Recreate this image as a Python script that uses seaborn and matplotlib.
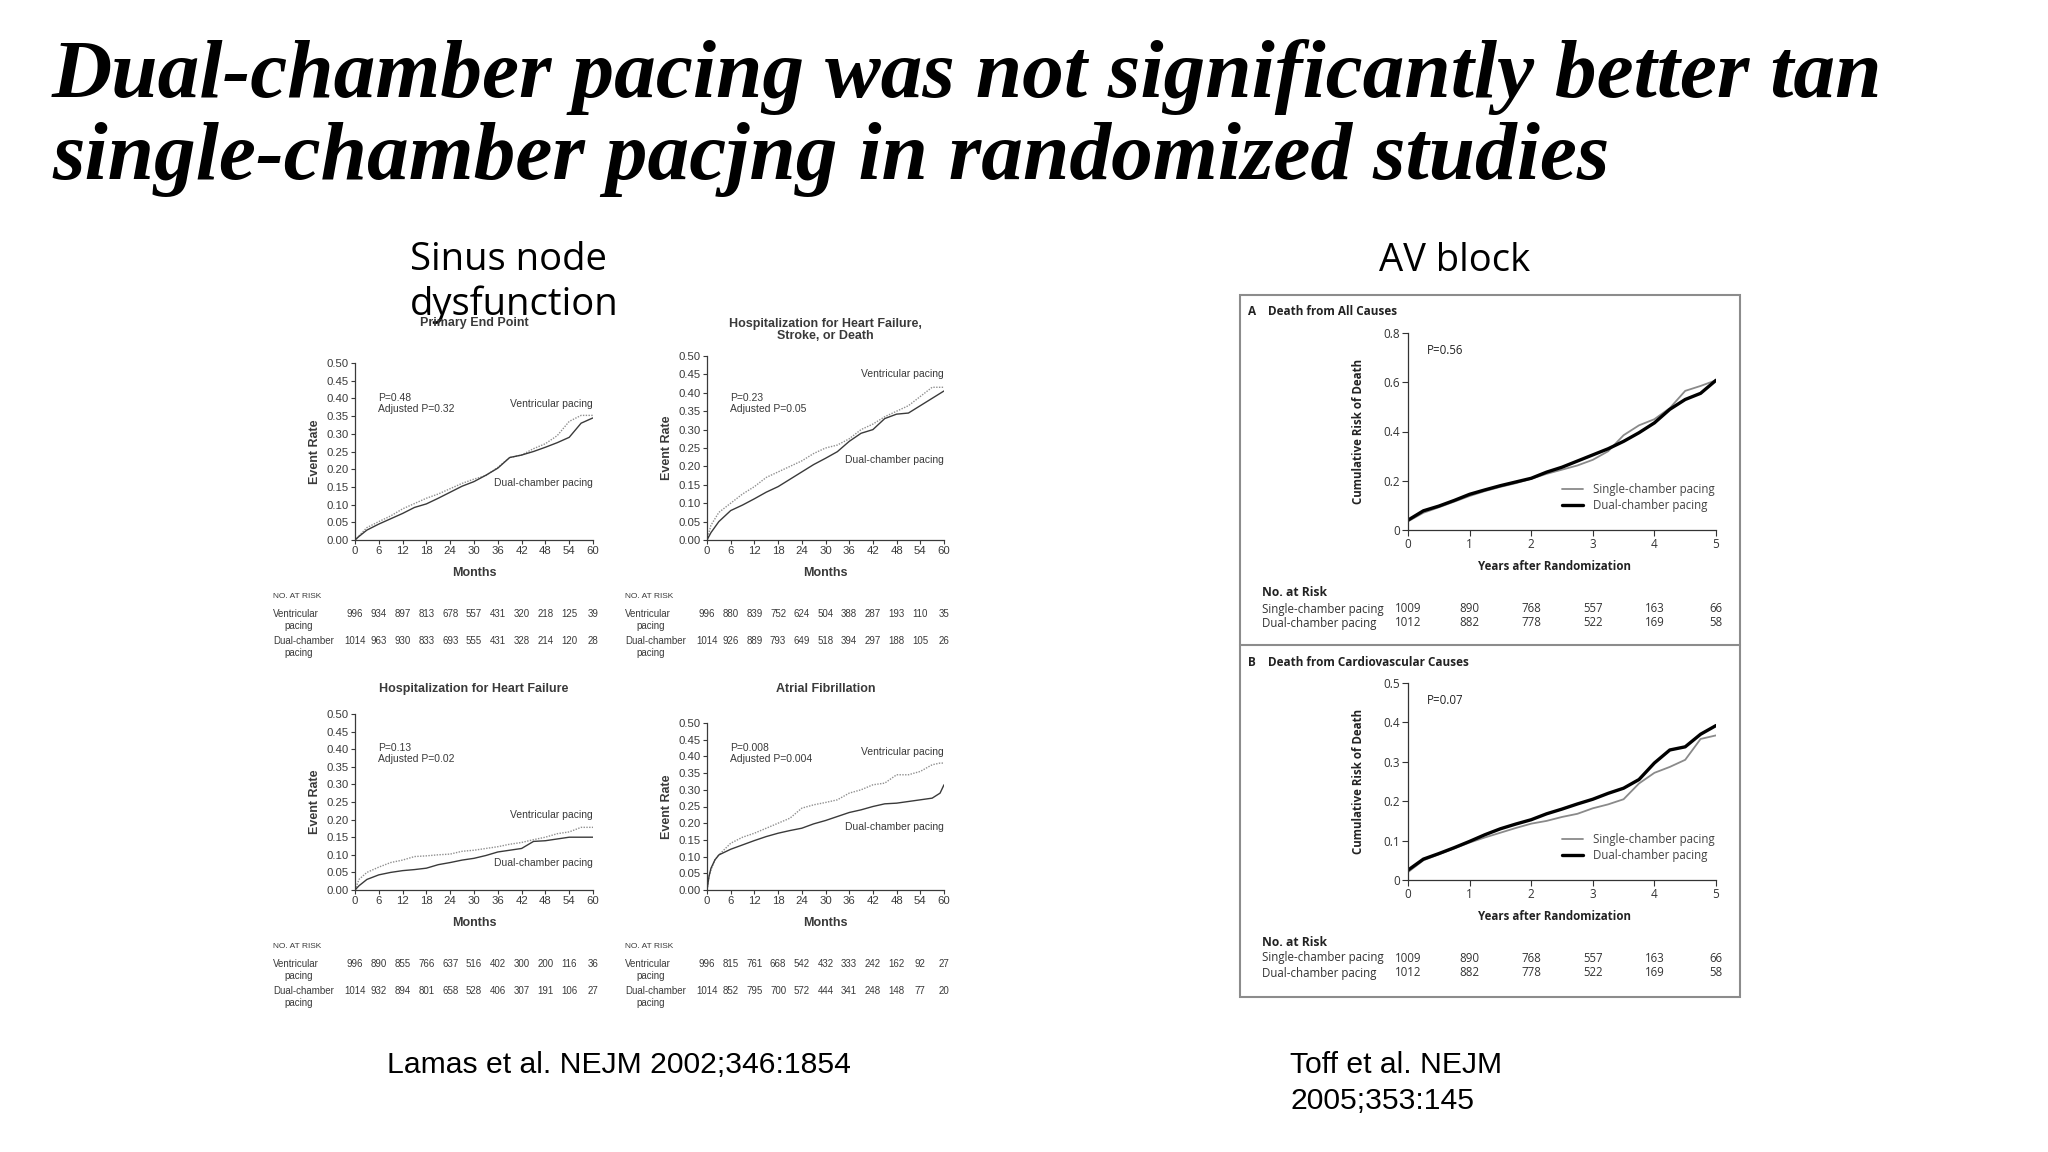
import matplotlib
matplotlib.use("Agg")
import matplotlib.pyplot as plt
import matplotlib.transforms as mtrans
from matplotlib.patches import Rectangle
from matplotlib.lines import Line2D
import seaborn as sns
import pandas as pd

# ---------------- DATA ----------------
# Lamas et al. (sinus node dysfunction) - event rates by month
months = [0, 1, 3, 6, 9, 12, 15, 18, 21, 24, 27, 30, 33, 36, 39, 42, 45, 48, 51, 54, 57, 60]

pep_vent = [0, 0.012, 0.035, 0.052, 0.068, 0.088, 0.103, 0.118, 0.130, 0.145, 0.160, 0.172,
            0.182, 0.205, 0.233, 0.240, 0.258, 0.272, 0.295, 0.335, 0.352, 0.352]
pep_dual = [0, 0.010, 0.028, 0.045, 0.060, 0.075, 0.092, 0.102, 0.118, 0.135, 0.152, 0.165,
            0.183, 0.203, 0.233, 0.240, 0.250, 0.262, 0.275, 0.290, 0.330, 0.345]

hfs_vent = [0, 0.040, 0.075, 0.100, 0.125, 0.145, 0.170, 0.185, 0.200, 0.215, 0.235, 0.250,
            0.258, 0.275, 0.300, 0.315, 0.335, 0.350, 0.365, 0.390, 0.415, 0.415]
hfs_dual = [0, 0.020, 0.050, 0.080, 0.095, 0.112, 0.130, 0.145, 0.165, 0.185, 0.205, 0.222,
            0.240, 0.268, 0.290, 0.300, 0.330, 0.342, 0.345, 0.365, 0.385, 0.405]

hf_vent = [0, 0.030, 0.050, 0.065, 0.078, 0.085, 0.095, 0.097, 0.100, 0.102, 0.110, 0.113,
           0.118, 0.123, 0.130, 0.135, 0.143, 0.150, 0.160, 0.165, 0.178, 0.178]
hf_dual = [0, 0.012, 0.030, 0.043, 0.050, 0.055, 0.058, 0.062, 0.072, 0.078, 0.085, 0.090,
           0.098, 0.108, 0.113, 0.118, 0.138, 0.140, 0.145, 0.150, 0.150, 0.150]

af_months = [0, 0.5, 1, 2, 3, 6, 9, 12, 15, 18, 21, 24, 27, 30, 33, 36, 39, 42, 45, 48, 51, 54, 57, 59, 60]
af_vent = [0, 0.040, 0.060, 0.090, 0.105, 0.140, 0.158, 0.170, 0.185, 0.200, 0.215, 0.245, 0.255,
           0.262, 0.270, 0.290, 0.300, 0.315, 0.320, 0.345, 0.345, 0.355, 0.375, 0.380, 0.380]
af_dual = [0, 0.040, 0.065, 0.090, 0.105, 0.122, 0.135, 0.148, 0.160, 0.170, 0.178, 0.185, 0.198,
           0.208, 0.220, 0.232, 0.240, 0.250, 0.258, 0.260, 0.265, 0.270, 0.275, 0.290, 0.315]

lamas_titles = ["Primary End Point", "Hospitalization for Heart Failure,\nStroke, or Death",
                "Hospitalization for Heart Failure", "Atrial Fibrillation"]
lamas_p = ["P=0.48", "P=0.23", "P=0.13", "P=0.008"]
lamas_padj = ["Adjusted P=0.32", "Adjusted P=0.05", "Adjusted P=0.02", "Adjusted P=0.004"]
risk_months = [0, 6, 12, 18, 24, 30, 36, 42, 48, 54, 60]
pep_risk_vent = [996, 934, 897, 813, 678, 557, 431, 320, 218, 125, 39]
pep_risk_dual = [1014, 963, 930, 833, 693, 555, 431, 328, 214, 120, 28]
hfs_risk_vent = [996, 880, 839, 752, 624, 504, 388, 287, 193, 110, 35]
hfs_risk_dual = [1014, 926, 889, 793, 649, 518, 394, 297, 188, 105, 26]
hf_risk_vent = [996, 890, 855, 766, 637, 516, 402, 300, 200, 116, 36]
hf_risk_dual = [1014, 932, 894, 801, 658, 528, 406, 307, 191, 106, 27]
af_risk_vent = [996, 815, 761, 668, 542, 432, 333, 242, 162, 92, 27]
af_risk_dual = [1014, 852, 795, 700, 572, 444, 341, 248, 148, 77, 20]

# Toff et al. (AV block) - cumulative risk by year
years = [0, 0.25, 0.5, 0.75, 1, 1.25, 1.5, 1.75, 2, 2.25, 2.5, 2.75, 3, 3.25, 3.5, 3.75,
         4, 4.25, 4.5, 4.75, 5]
all_single = [0.035, 0.070, 0.092, 0.115, 0.138, 0.158, 0.175, 0.190, 0.208, 0.228, 0.245,
              0.262, 0.285, 0.320, 0.385, 0.425, 0.450, 0.495, 0.565, 0.585, 0.608]
all_dual = [0.040, 0.078, 0.097, 0.120, 0.145, 0.163, 0.180, 0.195, 0.210, 0.235, 0.255,
            0.280, 0.305, 0.330, 0.360, 0.395, 0.435, 0.490, 0.530, 0.555, 0.608]
cv_single = [0.020, 0.050, 0.065, 0.080, 0.095, 0.108, 0.120, 0.132, 0.143, 0.150, 0.160,
             0.168, 0.182, 0.192, 0.205, 0.245, 0.272, 0.287, 0.305, 0.358, 0.367]
cv_dual = [0.025, 0.053, 0.067, 0.082, 0.098, 0.115, 0.130, 0.142, 0.153, 0.168, 0.180,
           0.193, 0.205, 0.220, 0.233, 0.255, 0.297, 0.330, 0.338, 0.370, 0.392]
risk_years = [0, 1, 2, 3, 4, 5]
toff_risk_single = [1009, 890, 768, 557, 163, 66]
toff_risk_dual = [1012, 882, 778, 522, 169, 58]

# ---------------- STYLE ----------------
sns.set_style("ticks")
plt.rcParams['font.family'] = ['Liberation Sans', 'DejaVu Sans']

W, H = 2048, 1152
fig = plt.figure(figsize=(20.48, 11.52), dpi=100)
fig.patch.set_facecolor("white")


def fx(x):
    return x / W


def fy(y):
    return 1 - y / H


def add_ax(l, t, r, b):
    return fig.add_axes([l / W, 1 - b / H, (r - l) / W, (b - t) / H])


# ---------------- TITLE ----------------
title_font = dict(family=['Liberation Serif'], weight='bold', style='italic', size=60, color='black')
fig.text(fx(52), fy(97), "Dual-chamber pacing was not significantly better tan", va='baseline', ha='left', **title_font)
fig.text(fx(52), fy(179), "single-chamber pacjng in randomized studies", va='baseline', ha='left', **title_font)

slide_font = dict(family=['Open Sans', 'DejaVu Sans'], size=27.5, color='black')
fig.text(fx(410), fy(270), "Sinus node", va='baseline', ha='left', **slide_font)
fig.text(fx(410), fy(315), "dysfunction", va='baseline', ha='left', **slide_font)
fig.text(fx(1379), fy(271), "AV block", va='baseline', ha='left', **slide_font)

cite_font = dict(family=['Liberation Sans'], size=21.7, color='black')
fig.text(fx(387), fy(1073), "Lamas et al. NEJM 2002;346:1854", va='baseline', ha='left', **cite_font)
fig.text(fx(1290), fy(1073), "Toff et al. NEJM", va='baseline', ha='left', **cite_font)
fig.text(fx(1290), fy(1109), "2005;353:145", va='baseline', ha='left', **cite_font)

# ---------------- LAMAS PANELS ----------------
lam_col = '#3a3a3a'
lam_panels = [
    dict(box=(355, 363, 593, 540), m=months, v=pep_vent, d=pep_dual, title_y=323,
         p=(0.097, 0.80, 0.74), vl=0.77, dl=0.32, rv=pep_risk_vent, rd=pep_risk_dual,
         label_x=273, rows=(596, 614, 626, 641, 653), xlab=573),
    dict(box=(707, 356, 944, 540), m=months, v=hfs_vent, d=hfs_dual, title_y=330,
         p=(0.097, 0.77, 0.71), vl=0.90, dl=0.435, rv=hfs_risk_vent, rd=hfs_risk_dual,
         label_x=625, rows=(596, 614, 626, 641, 653), xlab=573),
    dict(box=(355, 714, 593, 890), m=months, v=hf_vent, d=hf_dual, title_y=689,
         p=(0.097, 0.807, 0.744), vl=0.426, dl=0.153, rv=hf_risk_vent, rd=hf_risk_dual,
         label_x=273, rows=(946, 964, 976, 991, 1003), xlab=923),
    dict(box=(707, 723, 944, 890), m=af_months, v=af_vent, d=af_dual, title_y=689,
         p=(0.097, 0.85, 0.784), vl=0.826, dl=0.377, rv=af_risk_vent, rd=af_risk_dual,
         label_x=625, rows=(946, 964, 976, 991, 1003), xlab=923),
]

for i, pnl in enumerate(lam_panels):
    l, t, r, b = pnl['box']
    ax = add_ax(l, t, r, b)
    df = pd.DataFrame({
        'Months': list(pnl['m']) * 2,
        'Rate': list(pnl['v']) + list(pnl['d']),
        'Group': ['Ventricular pacing'] * len(pnl['m']) + ['Dual-chamber pacing'] * len(pnl['m']),
    })
    sns.lineplot(data=df, x='Months', y='Rate', hue='Group', style='Group',
                 palette={'Ventricular pacing': '#8f8f8f', 'Dual-chamber pacing': '#3a3a3a'},
                 dashes={'Ventricular pacing': (1, 1), 'Dual-chamber pacing': ''},
                 linewidth=1.0, legend=False, ax=ax)
    ax.set_xlim(0, 60)
    ax.set_ylim(0, 0.5)
    ax.set_xticks(risk_months)
    ax.set_yticks([k * 0.05 for k in range(11)])
    ax.set_yticklabels([f"{k * 0.05:.2f}" for k in range(11)])
    ax.tick_params(labelsize=8.2, length=3, width=0.8, colors=lam_col, pad=1.5)
    for s in ['top', 'right']:
        ax.spines[s].set_visible(False)
    for s in ['left', 'bottom']:
        ax.spines[s].set_color(lam_col)
        ax.spines[s].set_linewidth(0.9)
    ax.set_xlabel("")
    ax.set_ylabel("Event Rate", fontsize=9, fontweight='bold', color=lam_col, labelpad=4)
    fig.text(fx((l + r) / 2), fy(pnl['title_y']), lamas_titles[i], ha='center', va='center',
             fontsize=9, fontweight='bold', color=lam_col, linespacing=1.1)
    fig.text(fx((l + r) / 2), fy(pnl['xlab']), "Months", ha='center', va='center',
             fontsize=9, fontweight='bold', color=lam_col)
    px, py1, py2 = pnl['p']
    ax.text(px, py1, lamas_p[i], transform=ax.transAxes, fontsize=7.5, color=lam_col, va='center')
    ax.text(px, py2, lamas_padj[i], transform=ax.transAxes, fontsize=7.5, color=lam_col, va='center')
    ax.text(1.0, pnl['vl'], "Ventricular pacing", transform=ax.transAxes, fontsize=7.5,
            color=lam_col, va='center', ha='right')
    ax.text(1.0, pnl['dl'], "Dual-chamber pacing", transform=ax.transAxes, fontsize=7.5,
            color=lam_col, va='center', ha='right')
    # at-risk table
    y0, yv, yvp, yd, ydp = pnl['rows']
    lx = pnl['label_x']
    fig.text(fx(lx), fy(y0), "NO. AT RISK", fontsize=6, color=lam_col, va='center')
    fig.text(fx(lx), fy(yv), "Ventricular", fontsize=7, color=lam_col, va='center')
    fig.text(fx(lx + 11), fy(yvp), "pacing", fontsize=7, color=lam_col, va='center')
    fig.text(fx(lx), fy(yd), "Dual-chamber", fontsize=7, color=lam_col, va='center')
    fig.text(fx(lx + 11), fy(ydp), "pacing", fontsize=7, color=lam_col, va='center')
    tr = mtrans.blended_transform_factory(ax.transData, fig.transFigure)
    for mth, nv, nd in zip(risk_months, pnl['rv'], pnl['rd']):
        ax.text(mth, fy(yv), str(nv), transform=tr, fontsize=7, color=lam_col, ha='center', va='center')
        ax.text(mth, fy(yd), str(nd), transform=tr, fontsize=7, color=lam_col, ha='center', va='center')

# ---------------- TOFF PANELS ----------------
toff_font = ['Open Sans', 'DejaVu Sans']
toff_col = '#222222'
box_col = '#8c8c8c'
fig.patches.append(Rectangle((fx(1240), fy(997)), (1740 - 1240) / W, (997 - 295) / H,
                             transform=fig.transFigure, fill=False, edgecolor=box_col, linewidth=1.5))
fig.add_artist(Line2D([fx(1240), fx(1740)], [fy(645), fy(645)], transform=fig.transFigure,
                      color=box_col, linewidth=1.5))

toff_panels = [
    dict(box=(1408, 333, 1716, 530), s=all_single, d=all_dual, ymax=0.8,
         yt=[0, 0.2, 0.4, 0.6, 0.8], letter="A", head="Death from All Causes", hy=312,
         p="P=0.56", xlab=567, rows=(593, 609, 623)),
    dict(box=(1408, 683, 1716, 880), s=cv_single, d=cv_dual, ymax=0.5,
         yt=[0, 0.1, 0.2, 0.3, 0.4, 0.5], letter="B", head="Death from Cardiovascular Causes", hy=662,
         p="P=0.07", xlab=917, rows=(942, 958, 973)),
]

for pnl in toff_panels:
    l, t, r, b = pnl['box']
    ax = add_ax(l, t, r, b)
    df = pd.DataFrame({
        'Years': years * 2,
        'Risk': list(pnl['s']) + list(pnl['d']),
        'Group': ['Single-chamber pacing'] * len(years) + ['Dual-chamber pacing'] * len(years),
    })
    sns.lineplot(data=df, x='Years', y='Risk', hue='Group', size='Group',
                 palette={'Single-chamber pacing': '#8a8a8a', 'Dual-chamber pacing': '#000000'},
                 sizes={'Single-chamber pacing': 1.3, 'Dual-chamber pacing': 2.4},
                 ax=ax)
    ax.set_xlim(0, 5)
    ax.set_ylim(0, pnl['ymax'])
    ax.set_xticks(risk_years)
    ax.set_yticks(pnl['yt'])
    ax.set_yticklabels(["0" if v == 0 else f"{v:.1f}" for v in pnl['yt']])
    for lab in ax.get_xticklabels() + ax.get_yticklabels():
        lab.set_fontfamily(toff_font)
    ax.tick_params(labelsize=8.5, length=4, width=0.8, colors='#333333', pad=2)
    for s in ['top', 'right']:
        ax.spines[s].set_visible(False)
    for s in ['left', 'bottom']:
        ax.spines[s].set_color('#333333')
        ax.spines[s].set_linewidth(0.9)
    ax.set_xlabel("")
    ax.set_ylabel("Cumulative Risk of Death", fontsize=8.3, fontweight='bold', family=toff_font,
                  color=toff_col, labelpad=13)
    fig.text(fx((l + r) / 2 - 8), fy(pnl['xlab']), "Years after Randomization", ha='center', va='center',
             fontsize=8.3, fontweight='bold', family=toff_font, color=toff_col)
    ax.text(0.062, 0.91, pnl['p'], transform=ax.transAxes, fontsize=8.3, family=toff_font,
            color=toff_col, va='center')
    leg = ax.legend(loc='center left', bbox_to_anchor=(0.50, 0.165), frameon=False,
                    prop={'family': toff_font, 'size': 8.3}, handlelength=1.8, handletextpad=0.9,
                    labelspacing=0.3, borderaxespad=0, borderpad=0)
    for txt in leg.get_texts():
        txt.set_color('#444444')
    fig.text(fx(1248), fy(pnl['hy']), pnl['letter'], fontsize=8.5, fontweight='bold',
             family=toff_font, color=toff_col, va='center')
    fig.text(fx(1268), fy(pnl['hy']), pnl['head'], fontsize=8.5, fontweight='bold',
             family=toff_font, color=toff_col, va='center')
    y0, ys, yd = pnl['rows']
    fig.text(fx(1262), fy(y0), "No. at Risk", fontsize=8.7, fontweight='bold',
             family=toff_font, color=toff_col, va='center')
    fig.text(fx(1262), fy(ys), "Single-chamber pacing", fontsize=8.3, family=toff_font,
             color='#333333', va='center')
    fig.text(fx(1262), fy(yd), "Dual-chamber pacing", fontsize=8.3, family=toff_font,
             color='#333333', va='center')
    tr = mtrans.blended_transform_factory(ax.transData, fig.transFigure)
    for yr, ns, nd in zip(risk_years, toff_risk_single, toff_risk_dual):
        ax.text(yr, fy(ys), str(ns), transform=tr, fontsize=8.3, family=toff_font,
                color='#333333', ha='center', va='center')
        ax.text(yr, fy(yd), str(nd), transform=tr, fontsize=8.3, family=toff_font,
                color='#333333', ha='center', va='center')

fig.savefig("out.png", dpi=100, facecolor="white")
